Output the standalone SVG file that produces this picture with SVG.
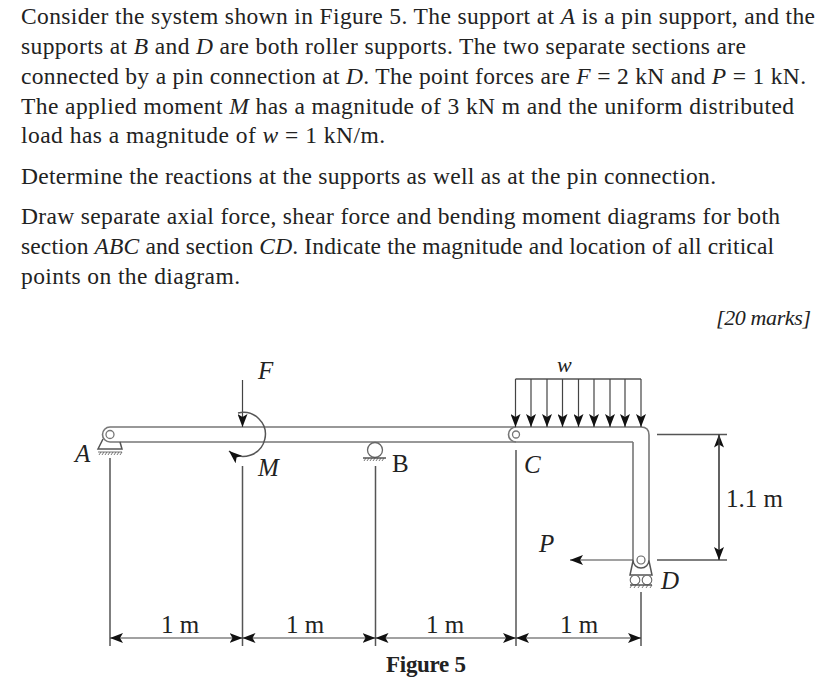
<svg xmlns="http://www.w3.org/2000/svg" width="834" height="694" viewBox="0 0 834 694">
<style>
.t{font-family:"Liberation Serif","Times New Roman",serif;font-size:23.5px;fill:#222}
.l{font-family:"Liberation Serif","Times New Roman",serif;font-size:25px;fill:#222}
.i{font-style:italic}
.s{fill:none;stroke:#777;stroke-width:1.6}
.d{fill:none;stroke:#444;stroke-width:1.2}
.f{fill:none;stroke:#555;stroke-width:1.5}
.h{fill:none;stroke:#555;stroke-width:.8}
</style>
<defs>
<marker id="a" markerUnits="userSpaceOnUse" markerWidth="14" markerHeight="10" refX="13" refY="5" orient="auto"><path d="M0 0L13 5L0 10L3 5Z" fill="#111"/></marker>
<marker id="b" markerUnits="userSpaceOnUse" markerWidth="14" markerHeight="10" refX="1" refY="5" orient="auto"><path d="M14 0L1 5L14 10L11 5Z" fill="#111"/></marker>
</defs>
<g id="problem-text">
<text class="t" x="21" y="24" textLength="794" lengthAdjust="spacing">Consider the system shown in Figure 5. The support at <tspan class="i">A</tspan> is a pin support, and the</text>
<text class="t" x="21" y="54" textLength="725" lengthAdjust="spacing">supports at <tspan class="i">B</tspan> and <tspan class="i">D</tspan> are both roller supports. The two separate sections are</text>
<text class="t" x="21" y="84" textLength="785" lengthAdjust="spacing">connected by a pin connection at <tspan class="i">D</tspan>. The point forces are <tspan class="i">F</tspan> = 2 kN and <tspan class="i">P</tspan> = 1 kN.</text>
<text class="t" x="21" y="114" textLength="773" lengthAdjust="spacing">The applied moment <tspan class="i">M</tspan> has a magnitude of 3 kN m and the uniform distributed</text>
<text class="t" x="21" y="143" textLength="364" lengthAdjust="spacing">load has a magnitude of <tspan class="i">w</tspan> = 1 kN/m.</text>
<text class="t" x="21" y="184" textLength="695" lengthAdjust="spacing">Determine the reactions at the supports as well as at the pin connection.</text>
<text class="t" x="21" y="224" textLength="759" lengthAdjust="spacing">Draw separate axial force, shear force and bending moment diagrams for both</text>
<text class="t" x="21" y="254" textLength="753" lengthAdjust="spacing">section <tspan class="i">ABC</tspan> and section <tspan class="i">CD</tspan>. Indicate the magnitude and location of all critical</text>
<text class="t" x="21" y="284" textLength="219" lengthAdjust="spacing">points on the diagram.</text>
<text class="t i" x="716" y="325" textLength="95" lengthAdjust="spacing" style="font-size:22px">[20 marks]</text>
</g>
<g id="beam-ABC">
<path class="s" d="M516 427H110A7.500 7.500 0 0 0 110 442H516"/>
<circle cx="110" cy="434.500" r="4" fill="#fff" stroke="#777" stroke-width="1.300"/>
</g>
<g id="beam-CD">
<path class="s" d="M516 427H641Q649 427 649 435V560M633 442V560M516 442H633"/>
<path class="s" d="M516 427A7.500 7.500 0 0 0 516 442"/>
<circle cx="516" cy="434.500" r="3.500" fill="#fff" stroke="#777" stroke-width="1.300"/>
</g>
<g id="support-A">
<path class="f" d="M103 439L98 449H122L120 442"/>
<path class="h" d="M98 452H122M99 455L101 452M102 455L104 452M105 455L107 452M108 455L110 452M111 455L113 452M114 455L116 452M117 455L119 452M120 455L122 452"/>
</g>
<g id="support-B">
<circle cx="375" cy="450" r="7.500" fill="#fff" stroke="#666" stroke-width="1.300"/>
<path class="f" d="M363 458H386"/>
<path class="h" d="M364 461L366 458M367 461L369 458M370 461L372 458M373 461L375 458M376 461L378 458M379 461L381 458M382 461L384 458"/>
</g>
<g id="support-D">
<circle cx="641" cy="560" r="4" fill="#fff" stroke="#666" stroke-width="1.200"/>
<path class="f" d="M633 560A8 8 0 0 0 649 560M633 561L630 575H652L649 561"/>
<circle cx="635" cy="580" r="4.800" fill="#fff" stroke="#666" stroke-width="1.100"/>
<circle cx="647" cy="580" r="4.800" fill="#fff" stroke="#666" stroke-width="1.100"/>
<path class="f" d="M630 585H652"/>
<path class="h" d="M630 588L632 585M634 588L636 585M638 588L640 585M642 588L644 585M646 588L648 585M650 588L652 585"/>
</g>
<g id="connectors">
<path class="d" d="M242.500 380V427" marker-end="url(#a)"/>
<path class="f" d="M238 413A22 22 0 1 1 229 451" marker-end="url(#a)"/>
<path class="f" d="M515.500 379H641"/>
<path class="d" d="M515.500 379V427" marker-end="url(#a)"/>
<path class="d" d="M531 379V427" marker-end="url(#a)"/>
<path class="d" d="M547 379V427" marker-end="url(#a)"/>
<path class="d" d="M562.500 379V427" marker-end="url(#a)"/>
<path class="d" d="M578.500 379V427" marker-end="url(#a)"/>
<path class="d" d="M594 379V427" marker-end="url(#a)"/>
<path class="d" d="M610 379V427" marker-end="url(#a)"/>
<path class="d" d="M625 379V427" marker-end="url(#a)"/>
<path class="d" d="M641 379V427" marker-end="url(#a)"/>
<path class="d" d="M633 560H570" marker-end="url(#a)"/>
<path class="f" d="M110 458V646M242.500 466V646M375.500 466V646M516 450V646M641 592V646"/>
<path class="f" d="M657 434.500H727M657 560H727"/>
<path class="d" d="M719 560V434.500" marker-end="url(#a)"/>
<path class="d" d="M719 434.500V560" marker-end="url(#a)"/>
<path class="d" d="M110 638H242.500" marker-start="url(#b)" marker-end="url(#a)"/>
<path class="d" d="M242.500 638H375.500" marker-start="url(#b)" marker-end="url(#a)"/>
<path class="d" d="M375.500 638H516" marker-start="url(#b)" marker-end="url(#a)"/>
<path class="d" d="M516 638H641" marker-start="url(#b)" marker-end="url(#a)"/>
</g>
<g id="labels">
<text class="l i" x="258" y="379">F</text>
<text class="l i" x="75" y="462">A</text>
<text class="l i" x="258" y="476">M</text>
<text class="l" x="392" y="472">B</text>
<text class="l i" x="524" y="473">C</text>
<text class="l i" x="557" y="372" style="font-size:22px">w</text>
<text class="l i" x="539" y="552">P</text>
<text class="l i" x="661" y="589">D</text>
<text class="l" x="726" y="507">1.1 m</text>
<text class="l" x="161" y="633">1 m</text>
<text class="l" x="286" y="633">1 m</text>
<text class="l" x="426" y="633">1 m</text>
<text class="l" x="560" y="633">1 m</text>
<text class="l" x="386" y="672" style="font-weight:bold;font-size:23px" textLength="80" lengthAdjust="spacing">Figure 5</text>
</g>
</svg>
